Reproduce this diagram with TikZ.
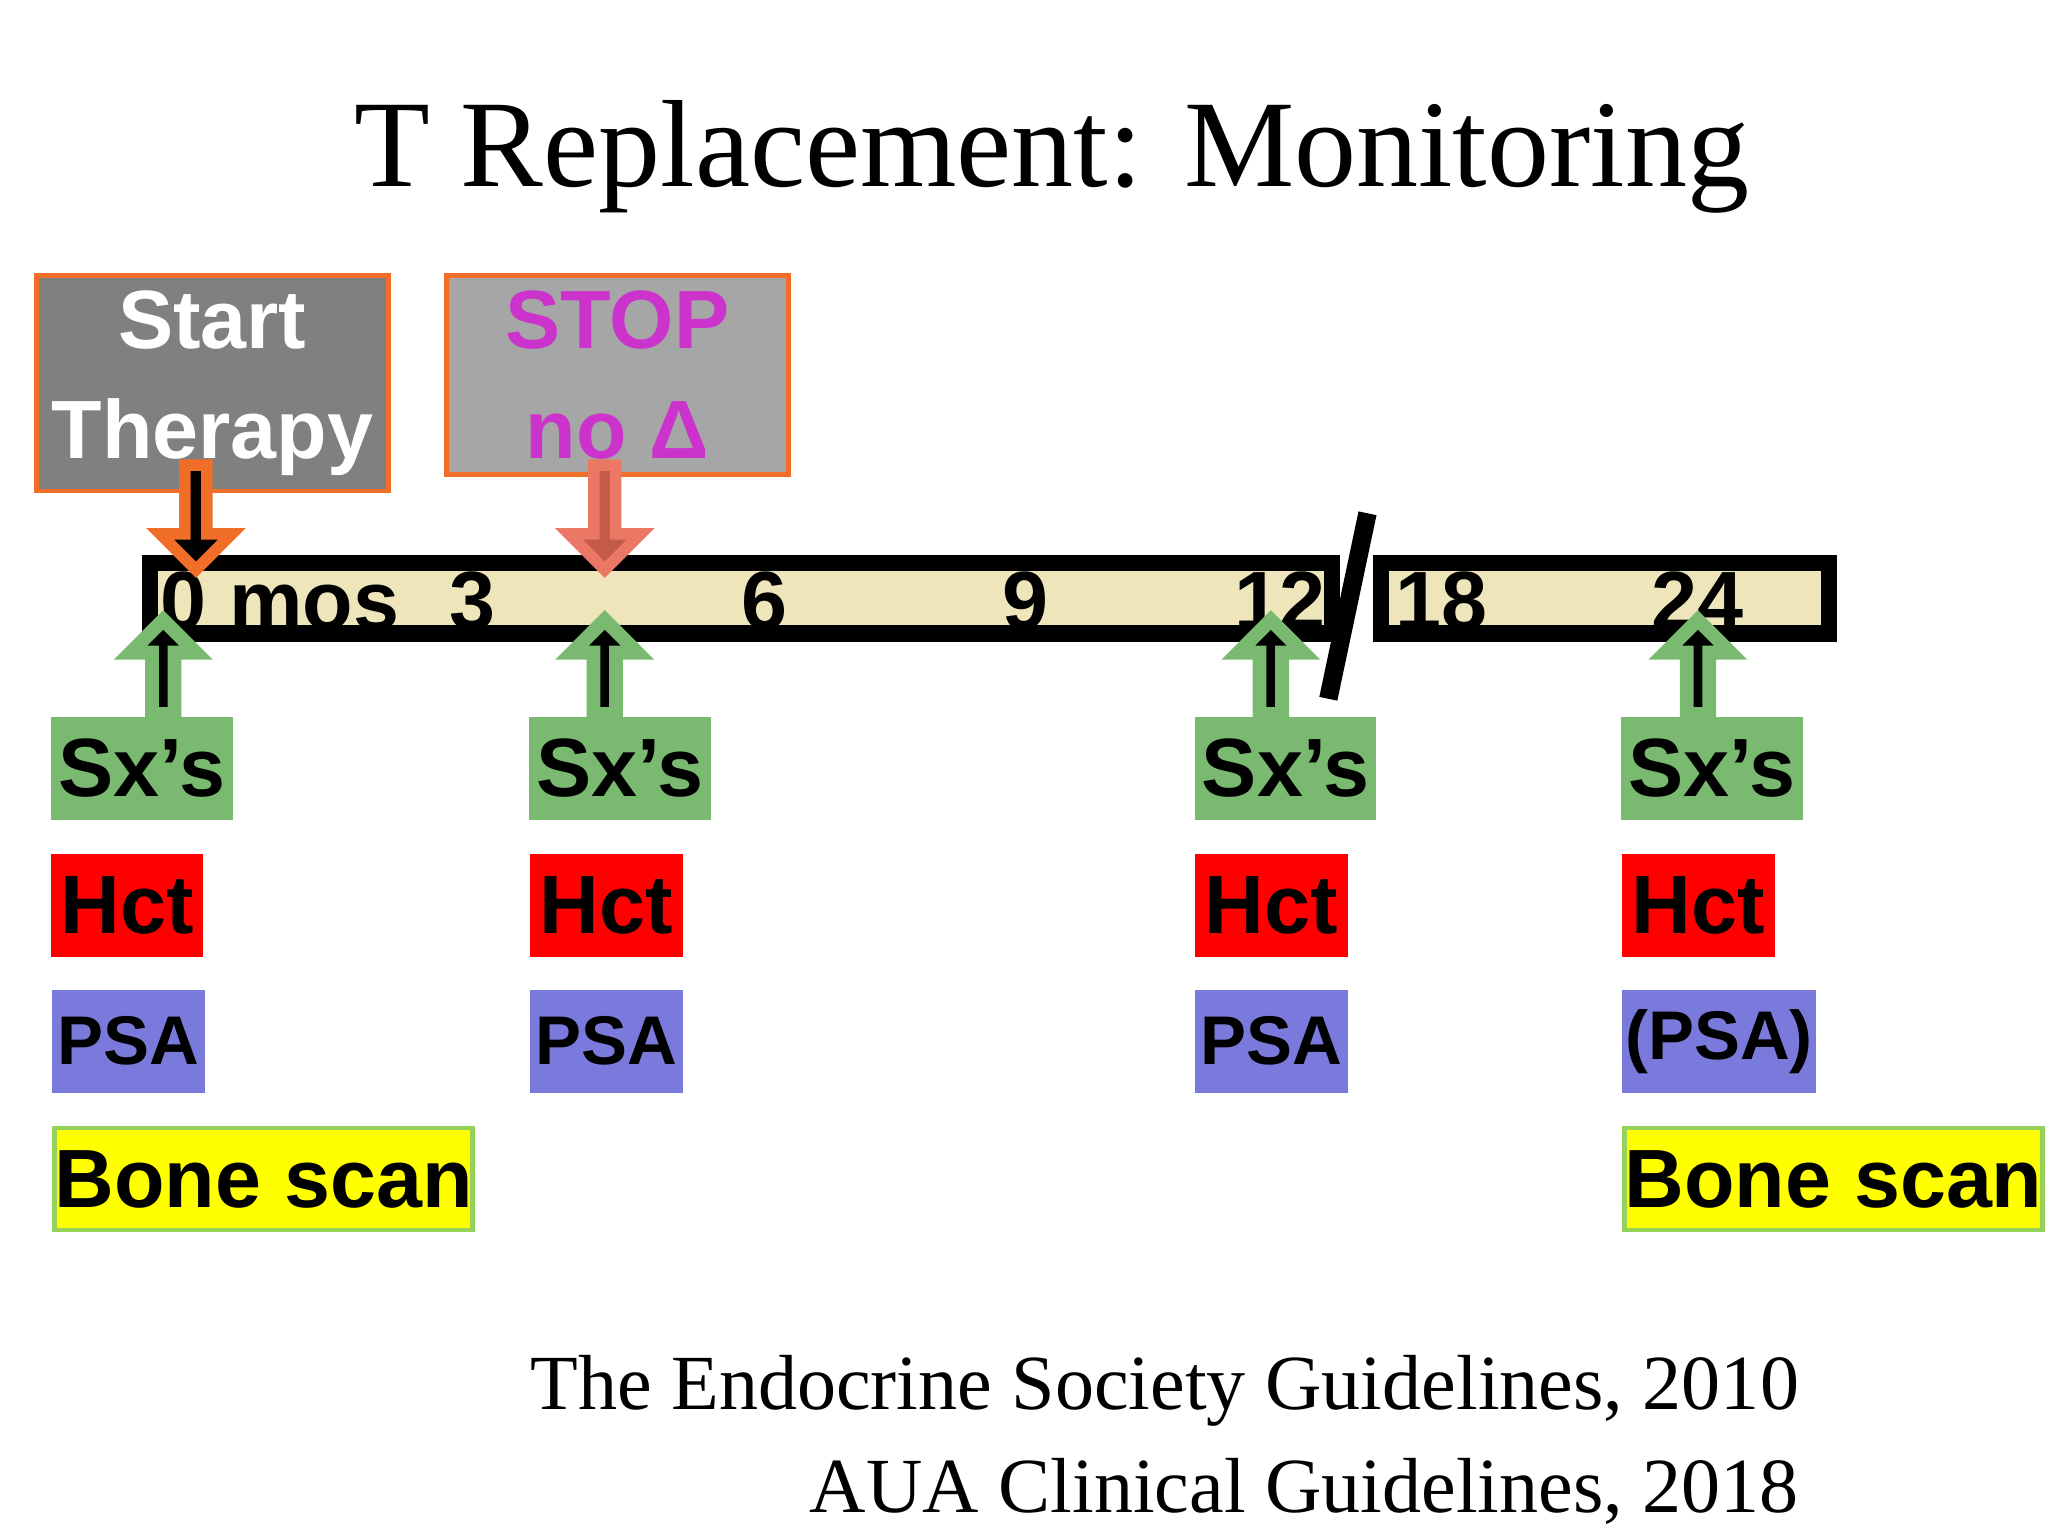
\documentclass[tikz,border=0pt]{standalone}
\usepackage{fontspec}
\setmainfont{Liberation Serif}
\setsansfont{Liberation Sans}
\usetikzlibrary{positioning, shapes.arrows, calc}
\definecolor{barfill}{RGB}{238,230,186}
\definecolor{sxgreen}{RGB}{122,186,112}
\definecolor{hctred}{RGB}{255,0,0}
\definecolor{psablue}{RGB}{122,122,220}
\definecolor{boneyellow}{RGB}{255,255,0}
\definecolor{boneedge}{RGB}{150,210,90}
\definecolor{edgeorange}{RGB}{240,110,40}
\definecolor{stopmag}{RGB}{204,51,204}
\definecolor{stoparrow}{RGB}{196,90,72}
\definecolor{stopedge}{RGB}{235,120,100}

\begin{document}
\begin{tikzpicture}[x=0.01cm, y=-0.01cm,
    tag/.style={anchor=north west, inner sep=0pt, minimum height=0.79cm, font=\sffamily\bfseries\fontsize{18}{20}\selectfont},
    topbox/.style={anchor=north west, draw=edgeorange, line width=1pt, minimum width=2.62cm, minimum height=1.41cm, align=center, font=\sffamily\bfseries\fontsize{18}{24}\selectfont},
    downarrow/.style={single arrow, shape border rotate=270, single arrow head extend=0.1cm, minimum height=0.8cm, minimum width=0.55cm, inner sep=0pt, line width=2.5pt},
    uparrow/.style={single arrow, shape border rotate=90, single arrow head extend=0.1cm, minimum height=0.72cm, minimum width=0.5cm, inner sep=0pt, fill=black, draw=sxgreen, line width=3pt},
    bar/.style={draw=black, line width=3.5pt, fill=barfill},
    tick/.style={font=\sffamily\bfseries\fontsize{18}{20}\selectfont}
]
\useasboundingbox (0,0) rectangle (1568,1176);

\node[font=\fontsize{27}{30}\selectfont] (title) at (805,120) {T Replacement: Monitoring};

\node[topbox, fill=black!50, text=white] (start) at (26,209) {Start\\Therapy};
\node[topbox, fill=black!35, text=stopmag] (stop) at (340,209) {STOP\\no Δ};

% timeline
\draw[bar] (115,431) rectangle (1020,485);
\draw[bar] (1057,431) rectangle (1400,485);
\draw[line width=4pt] (1047,393) coordinate (cutA) -- (1017,535) coordinate (cutB);
\node[tick, anchor=west, inner sep=0pt] (m0) at (122,460) {0 mos};
\foreach \x/\t in {362/3, 585/6, 785/9, 980/12, 1104/18, 1300/24}
  \node[tick] (m\t) at (\x,460) {\t};

\node[downarrow, fill=black, draw=edgeorange] (startarrow) at (150,392) {};
\node[downarrow, fill=stoparrow, draw=stopedge] (stoparrow) at (463,392) {};

% visits
\foreach \x/\n in {125/a, 463/b, 973/c, 1300/d}
  \node[uparrow] (up\n) at (\x,515) {};

\foreach \x/\w/\n in {38/140/a, 404/140/b, 914/139/c, 1240/140/d}
  \node[tag, fill=sxgreen, minimum width={\w*0.01cm}] (sx\n) at (\x,548) {Sx’s};
\foreach \x/\n in {38/a, 405/b, 914/c, 1241/d}
  \node[tag, fill=hctred, minimum width=1.17cm] (hct\n) at (\x,653) {Hct};
\foreach \x/\w/\n/\t in {39/117/a/PSA, 405/117/b/PSA, 914/117/c/PSA, 1241/149/d/(PSA)}
  \node[tag, fill=psablue, minimum width={\w*0.01cm}, font=\sffamily\bfseries\fontsize{15}{18}\selectfont] (psa\n) at (\x,757) {\t};
\foreach \x/\n in {40/a, 1242/d}
  \node[tag, fill=boneyellow, draw=boneedge, line width=1pt, minimum width=2.95cm, minimum height=0.78cm] (bone\n) at (\x,862) {Bone scan};

\node[anchor=north east, align=right, font=\fontsize{17}{22.5}\selectfont, inner sep=0pt] (refs) at (1378,1037)
  {The Endocrine Society Guidelines, 2010\\AUA Clinical Guidelines, 2018};
\end{tikzpicture}
\end{document}
